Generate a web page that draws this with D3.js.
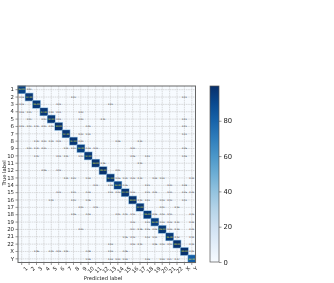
<!DOCTYPE html>
<head>
    <meta charset="utf-8">
    <script src="https://d3js.org/d3.v7.min.js"></script>
    <style>
        body { margin:0; background:#fff; }
        text { font-family:"DejaVu Sans"; filter:grayscale(1); }
        .cellValues text { filter:none; }
    </style>
</head>
<body>
<div id="chart"></div>
<script>
    var labels = ["1","2","3","4","5","6","7","8","9","10","11","12","13","14","15","16","17","18","19","20","21","22","X","Y"];

    // diagonal, percent
    var diag = [92,97,96,97,97,99,97,97,94,97,98,99,97,94,97,99,97,96,94,96,96,99,99,82];

    // off diagonal cells: [row, column, value]
    var rest = [
        [0,1,.01],
        [1,0,.02],[1,7,.01],[1,22,.01],
        [2,0,.02],[2,5,.01],[2,12,.01],
        [3,0,.02],[3,1,.01],[3,4,.01],[3,5,.01],[3,8,.01],
        [4,1,.01],[4,3,.01],[4,5,.01],[4,8,.01],[4,11,.01],[4,22,.01],
        [5,0,.01],[5,1,.01],[5,2,.01],[5,3,.01],[5,4,.01],[5,9,.01],[5,22,.01],
        [6,8,.01],[6,9,.01],[6,22,.01],
        [7,2,.01],[7,3,.01],[7,4,.01],[7,5,.01],[7,8,.01],[7,13,.06],[7,16,.01],
        [8,1,.01],[8,2,.01],[8,3,.01],[8,6,.01],[8,7,.01],[8,9,.03],[8,10,.01],[8,15,.01],[8,22,.06],
        [9,2,.01],[9,5,.01],[9,6,.01],[9,8,.01],[9,15,.06],[9,17,.01],[9,22,.06],
        [10,11,.06],[10,16,.01],
        [11,3,.06],[11,5,.01],[11,13,.01],
        [12,6,.01],[12,7,.01],[12,9,.03],[12,13,.05],[12,14,.01],[12,15,.03],[12,16,.01],[12,18,.03],[12,19,.03],[12,23,.01],
        [13,10,.01],[13,12,.08],[13,14,.05],[13,17,.01],[13,20,.01],[13,22,.08],
        [14,5,.01],[14,7,.01],[14,9,.03],[14,12,.03],[14,13,.03],[14,15,.03],[14,17,.01],[14,18,.01],[14,20,.01],[14,22,.05],[14,23,.01],
        [15,4,.01],[15,7,.01],[15,9,.06],[15,16,.01],[15,17,.01],[15,19,.03],[15,20,.01],[15,22,.01],
        [16,8,.01],[16,10,.01],[16,19,.01],[16,21,.04],
        [17,7,.06],[17,9,.03],[17,13,.01],[17,14,.01],[17,15,.03],[17,18,.03],[17,19,.03],[17,20,.01],[17,23,.01],
        [18,15,.03],[18,17,.01],[18,19,.03],[18,20,.04],[18,21,.01],[18,23,.01],
        [19,8,.01],[19,15,.07],[19,16,.06],[19,17,.05],[19,18,.03],[19,20,.03],[19,21,.04],[19,23,.01],
        [20,14,.05],[20,15,.03],[20,17,.03],[20,18,.01],[20,21,.03],[20,23,.01],
        [21,12,.03],[21,15,.03],[21,16,.01],[21,18,.06],[21,19,.03],[21,20,.01],[21,23,.01],
        [22,2,.06],[22,4,.01],[22,5,.01],[22,6,.01],[22,9,.08],[22,12,.03],[22,14,.06],[22,23,.01],
        [23,9,.06],[23,12,.04],[23,13,.01],[23,14,.03],[23,17,.06],[23,19,.03],[23,20,.07],[23,21,.07]
    ];

    var cells = rest.concat(diag.map(function (d, i) { return [i, i, d]; }));

    var legendTicks = [0, 20, 40, 60, 80];

    var svg = d3.select("#chart").append("svg")
        .attr("width", 334)
        .attr("height", 283);

    var x = d3.scaleBand().domain(labels).range([18, 195.5]);
    var y = d3.scaleBand().domain(labels).range([86, 262.5]);
    var color = d3.scaleSequential(d3.interpolateBlues).domain([0, 99.7]);

    // background
    svg.append("rect")
        .attr("x", 18).attr("y", 86)
        .attr("width", 177.5).attr("height", 176.5)
        .attr("fill", color(0));

    // grid
    var grid = svg.append("g")
        .attr("stroke", "#c4c4c4")
        .attr("stroke-width", 0.6)
        .attr("stroke-dasharray", "1.6,0.7");
    labels.forEach(function (l) {
        grid.append("line")
            .attr("x1", x(l) + x.bandwidth() / 2).attr("x2", x(l) + x.bandwidth() / 2)
            .attr("y1", 86).attr("y2", 262.5);
        grid.append("line")
            .attr("y1", y(l) + y.bandwidth() / 2).attr("y2", y(l) + y.bandwidth() / 2)
            .attr("x1", 18).attr("x2", 195.5);
    });

    // cells, the pale edge stands in for the smoothing of the original image
    svg.append("g").selectAll("rect")
        .data(cells.filter(function (d) { return d[2] >= 1; }))
        .enter().append("rect")
        .attr("x", function (d) { return x(labels[d[1]]); })
        .attr("y", function (d) { return y(labels[d[0]]); })
        .attr("width", x.bandwidth())
        .attr("height", y.bandwidth())
        .attr("fill", function (d) { return color(d[2]); })
        .attr("stroke", "#8fbbdd")
        .attr("stroke-width", 1.2)
        .attr("paint-order", "stroke");

    // cell values
    svg.append("g").attr("class", "cellValues").selectAll("text")
        .data(cells)
        .enter().append("text")
        .attr("x", function (d) { return x(labels[d[1]]) + x.bandwidth() / 2; })
        .attr("y", function (d) { return y(labels[d[0]]) + y.bandwidth() / 2 + 0.8; })
        .attr("text-anchor", "middle")
        .attr("font-size", 2.2)
        .attr("fill", function (d) { return d[2] >= 1 ? "#e6e63c" : "#222"; })
        .text(function (d) { return d[2].toFixed(2); });

    // axes
    var xAxis = svg.append("g")
        .attr("transform", "translate(0,262.5)")
        .call(d3.axisBottom(x).tickSize(2.5).tickPadding(1.5));
    xAxis.selectAll("text")
        .attr("font-size", 5.4)
        .attr("text-anchor", "end")
        .attr("transform", "rotate(-45) translate(0,1)");

    var yAxis = svg.append("g")
        .attr("transform", "translate(18,0)")
        .call(d3.axisLeft(y).tickSize(2.5).tickPadding(1.5));
    yAxis.selectAll("text").attr("font-size", 5.4);

    svg.selectAll(".domain").attr("stroke", "none");
    svg.selectAll(".tick line").attr("stroke", "#333").attr("stroke-width", 0.5);
    svg.selectAll(".tick text").attr("fill", "#222").style("font-family", "DejaVu Sans");

    // frame
    svg.append("rect")
        .attr("x", 18).attr("y", 86)
        .attr("width", 177.5).attr("height", 176.5)
        .attr("fill", "none")
        .attr("stroke", "#666")
        .attr("stroke-width", 1);

    svg.append("text")
        .attr("x", 103).attr("y", 280)
        .attr("text-anchor", "middle")
        .attr("font-size", 5.2)
        .attr("fill", "#222")
        .text("Predicted label");

    svg.append("text")
        .attr("transform", "translate(6,173) rotate(-90)")
        .attr("text-anchor", "middle")
        .attr("font-size", 5.2)
        .attr("fill", "#222")
        .text("True label");

    // colour bar
    var defs = svg.append("defs");
    var grad = defs.append("linearGradient")
        .attr("id", "bar")
        .attr("x1", 0).attr("x2", 0).attr("y1", 1).attr("y2", 0);
    d3.range(0, 1.01, 0.1).forEach(function (t) {
        grad.append("stop")
            .attr("offset", t)
            .attr("stop-color", d3.interpolateBlues(t));
    });

    var barScale = d3.scaleLinear().domain([0, 99.7]).range([262, 86]);

    svg.append("rect")
        .attr("x", 210).attr("y", 86)
        .attr("width", 9).attr("height", 176)
        .attr("fill", "url(#bar)")
        .attr("stroke", "#555")
        .attr("stroke-width", 0.7);

    var barAxis = svg.append("g")
        .attr("transform", "translate(219,0)")
        .call(d3.axisRight(barScale).tickValues(legendTicks).tickSize(2.5).tickPadding(2));
    barAxis.select(".domain").attr("stroke", "none");
    barAxis.selectAll("line").attr("stroke", "#333").attr("stroke-width", 0.5);
    barAxis.selectAll("text")
        .attr("font-size", 6.8)
        .attr("fill", "#222")
        .style("font-family", "DejaVu Sans");
</script>
</body>
